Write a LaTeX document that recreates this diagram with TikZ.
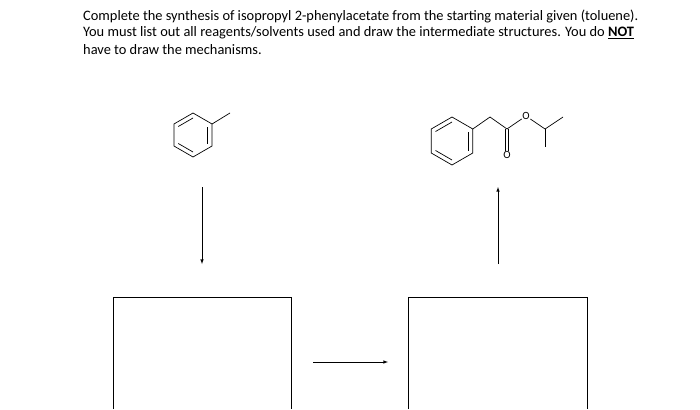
\documentclass[tikz,border=0pt]{standalone}
\usepackage{fontspec}
\setmainfont{Carlito}
\begin{document}
\begin{tikzpicture}[x=1pt,y=-1pt,
  bond/.style={line width=0.7pt},
  arr/.style={-latex,line width=0.6pt},
  box/.style={draw,line width=0.7pt},
  txt/.style={anchor=west,inner sep=0,font=\fontsize{14.4}{17}\selectfont}]
\useasboundingbox (0,0) rectangle (700,409);
\node[txt] (l1) at (83,16) {Complete the synthesis of isopropyl 2-phenylacetate from the starting material given (toluene).};
\node[txt] (l2) at (83,33) {You must list out all reagents/solvents used and draw the intermediate structures. You do \textbf{\underline{NOT}}};
\node[txt] (l3) at (83,50) {have to draw the mechanisms.};
% toluene
\begin{scope}[shift={(193,135)}]
\draw[bond] (90:22) -- (30:22) -- (-30:22) -- (-90:22) -- (-150:22) -- (150:22) -- cycle;
\draw[bond] (30:17) -- (-30:17);
\draw[bond] (-90:17) -- (-150:17);
\draw[bond] (150:17) -- (90:17);
\end{scope}
\coordinate (tv) at (212.05,124);
\coordinate (tm) at (230,113);
\draw[bond] (tv) -- (tm);
% product
\begin{scope}[shift={(452,141)}]
\draw[bond] (90:24) -- (30:24) -- (-30:24) -- (-90:24) -- (-150:24) -- (150:24) -- cycle;
\draw[bond] (30:19) -- (-30:19);
\draw[bond] (-90:19) -- (-150:19);
\draw[bond] (150:19) -- (90:19);
\end{scope}
\coordinate (r) at (472.8,129);
\coordinate (c1) at (490,117);
\coordinate (c2) at (507,129);
\node[inner sep=0.5pt,font=\fontsize{11}{11}\selectfont] (od) at (507,155) {O};
\node[inner sep=0.5pt,font=\fontsize{11}{11}\selectfont] (oe) at (526,116) {O};
\coordinate (c3) at (545,129);
\coordinate (c4) at (563,117);
\coordinate (c5) at (545,147);
\draw[bond] (r) -- (c1) -- (c2) -- (oe) -- (c3) -- (c4);
\draw[bond] (c3) -- (c5);
\draw[bond] ([xshift=-1.6]c2) -- ([xshift=-1.6]od.north);
\draw[bond] ([xshift=1.6]c2) -- ([xshift=1.6]od.north);
% arrows
\coordinate (a1) at (202,187); \coordinate (a2) at (202,264);
\draw[arr] (a1) -- (a2);
\coordinate (b1) at (498,264); \coordinate (b2) at (498,187);
\draw[arr] (b1) -- (b2);
\coordinate (h1) at (313,362); \coordinate (h2) at (388,362);
\draw[arr] (h1) -- (h2);
% boxes
\draw[box] (113,409) |- (291,297) -- (291,409);
\draw[box] (408,409) |- (587,297) -- (587,409);
\end{tikzpicture}
\end{document}
